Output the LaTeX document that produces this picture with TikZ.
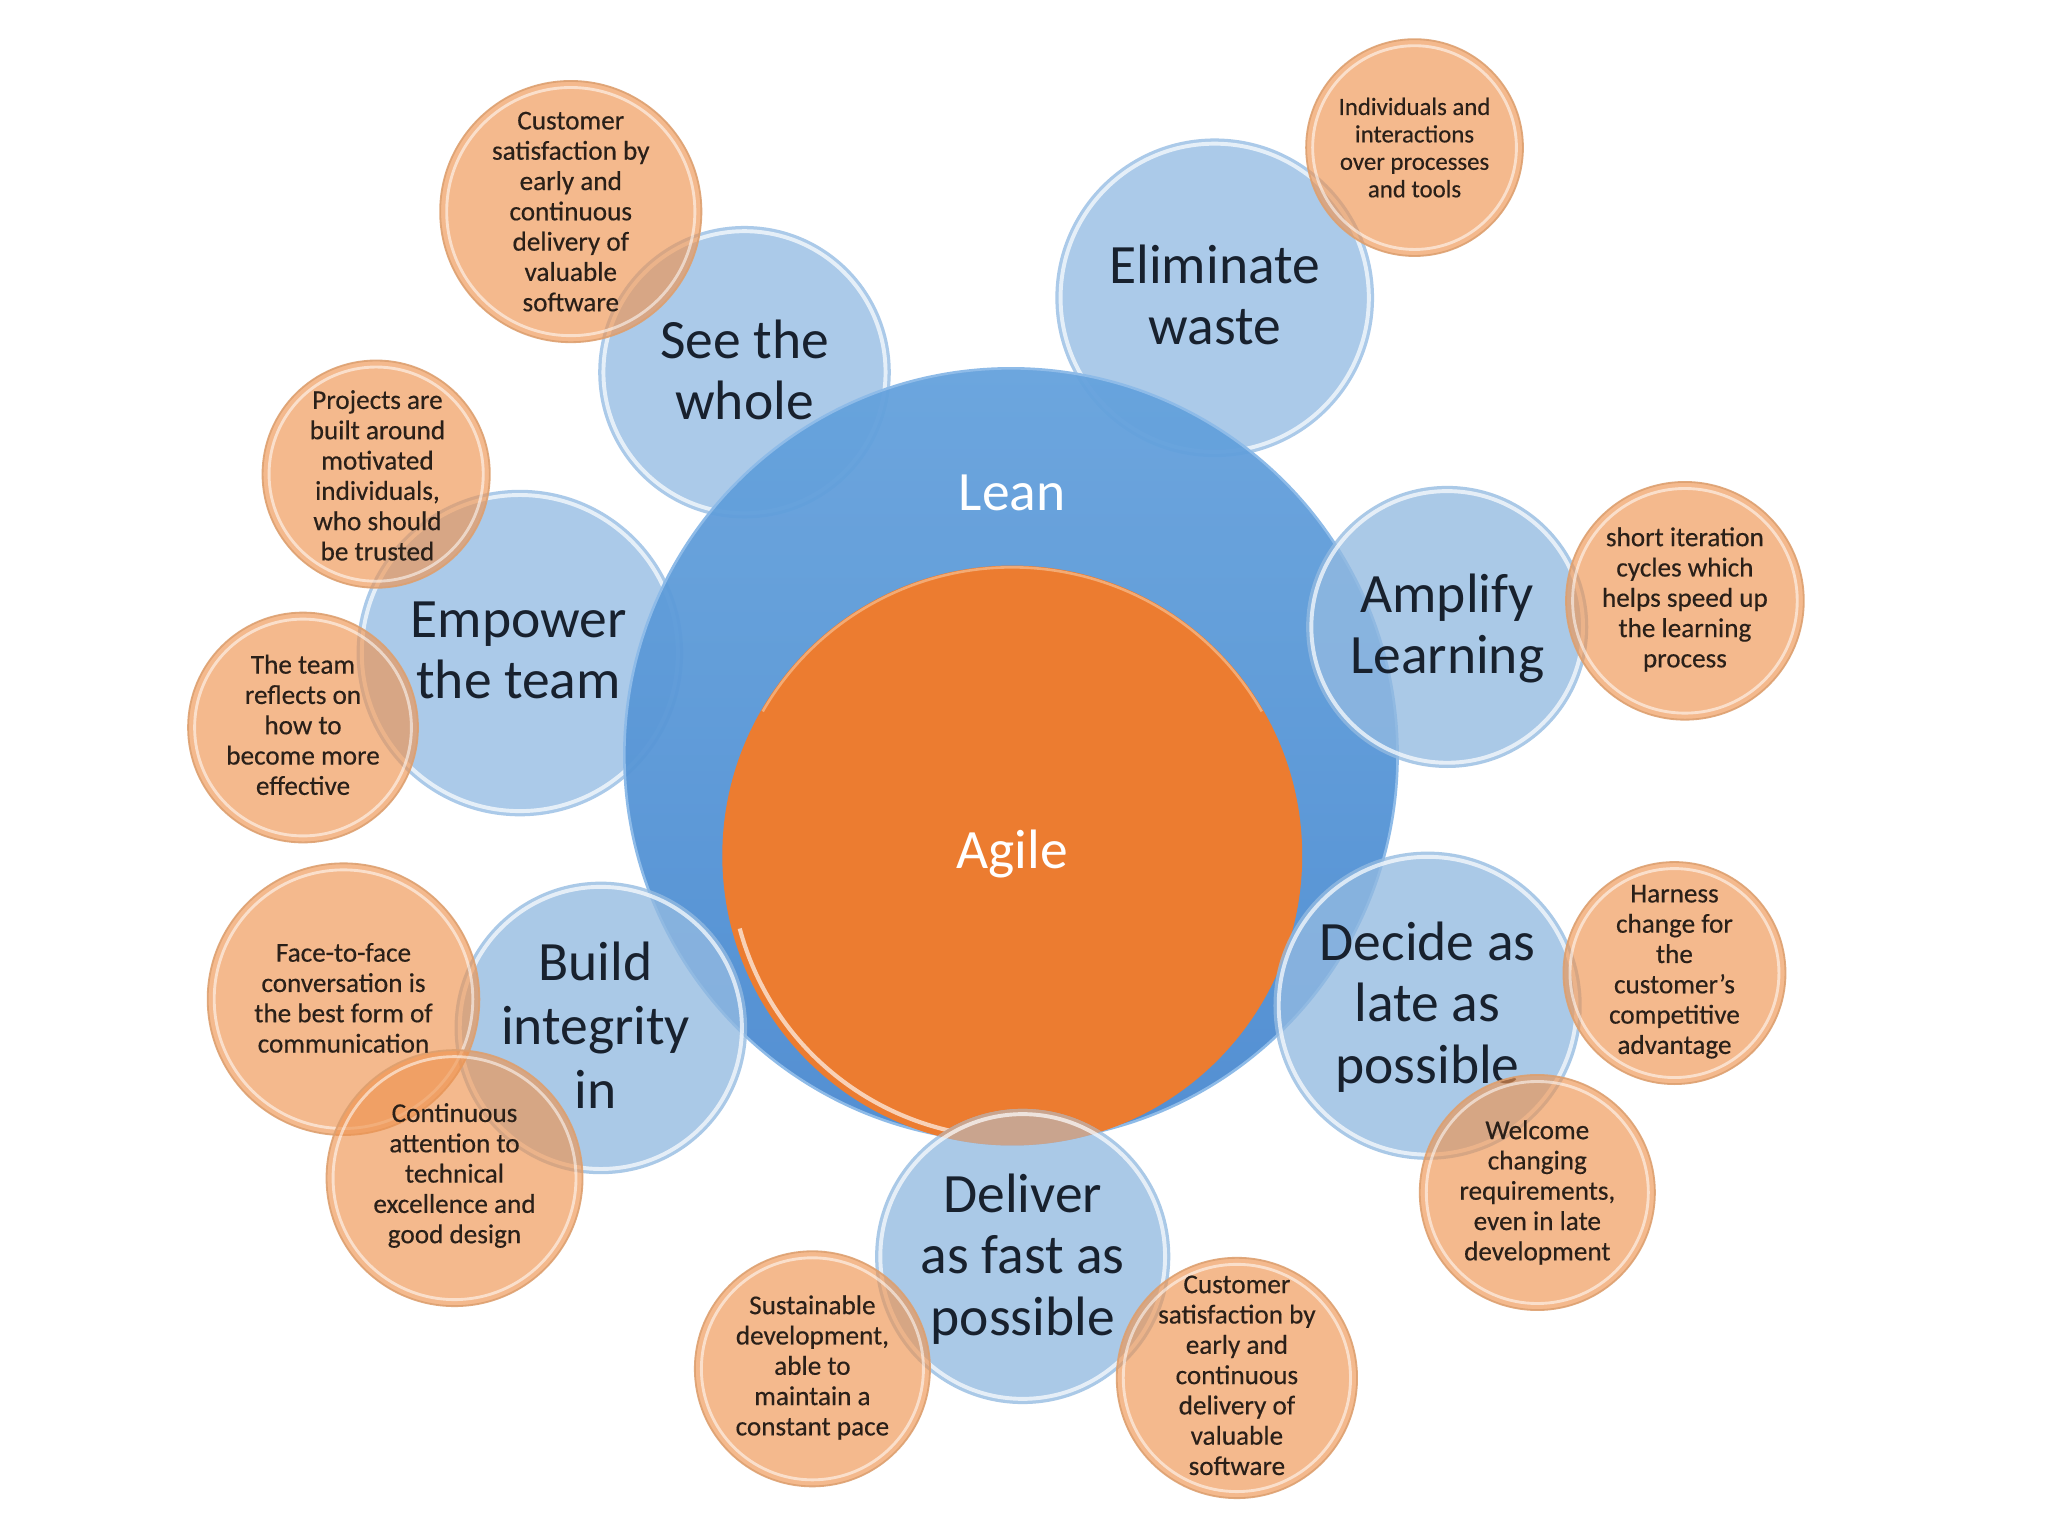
\documentclass[tikz,border=0pt]{standalone}
\usepackage{fontspec}
\setmainfont{Carlito}
\newfontfamily\smallfont[FakeBold=0.4]{Carlito}
\definecolor{lightbub}{HTML}{ABCAE9}
\definecolor{bubbase}{HTML}{93BAE1}
\definecolor{leanT}{HTML}{65A2DD}
\definecolor{leanB}{HTML}{4A8AD0}
\definecolor{leanEdge}{HTML}{8EBBE8}
\definecolor{agileor}{HTML}{EC7C30}
\definecolor{agilerim}{HTML}{F8C9A0}
\definecolor{tanov}{HTML}{C9A48E}
\definecolor{orgbase}{HTML}{EF9450}
\definecolor{orgedge}{HTML}{DDA070}
\definecolor{labeldark}{HTML}{18212E}
\definecolor{smalldark}{HTML}{2A2019}
\begin{document}
\begin{tikzpicture}[x=0.5pt,y=-0.5pt,
  bubA/.style={circle, inner sep=0pt, fill=lightbub},
  bubB/.style={circle, inner sep=0pt, fill=bubbase, fill opacity=0.78},
  bring/.style={draw=white, line width=1.5pt, draw opacity=0.7},
  orgbub/.style={circle, inner sep=0pt, fill=orgbase, fill opacity=0.65, draw=orgedge, line width=0.7pt, draw opacity=0.9},
  oring/.style={draw=white, line width=1.1pt, draw opacity=0.55},
  bigtxt/.style={align=center, font=\fontsize{21.25}{23.5}\selectfont, text=labeldark, inner sep=0pt},
  smalltxt/.style={align=center, font=\smallfont\fontsize{10.4}{11.6}\selectfont, text=smalldark, inner sep=0pt},
]
\useasboundingbox (0,0) rectangle (1568,1176);
\fill[white] (0,0) rectangle (1568,1176);

% bubbles beneath Lean
\node[bubA, minimum size=112pt] (see) at (570,285) {};
\draw[bring] (see.center) circle[radius=54pt];
\node[bubA, minimum size=122pt] (elim) at (930,228) {};
\draw[bring] (elim.center) circle[radius=59pt];
\node[bubA, minimum size=125pt] (emp) at (398,500) {};
\draw[bring] (emp.center) circle[radius=60.5pt];

% Lean
\node[circle, inner sep=0pt, minimum size=296pt, top color=leanT, bottom color=leanB,
      fill opacity=0.95, draw=leanEdge, line width=1pt] (lean) at (774,578) {};

% Agile
\node[circle, inner sep=0pt, minimum size=222pt, fill=agileor] (agile) at (775,655) {};
\draw[agilerim, line width=1pt, opacity=0.6] (agile.center) ++(30:110.3pt) arc[start angle=30, end angle=150, radius=110.3pt];
\draw[white, line width=1.6pt, opacity=0.65] (agile.center) ++(195:108pt) arc[start angle=195, end angle=285, radius=108pt];

% bubbles above Lean
\node[bubB, minimum size=108pt] (ampl) at (1108,480) {};
\draw[bring] (ampl.center) circle[radius=52pt];
\node[bubB, minimum size=118pt] (dec) at (1093,770) {};
\draw[bring] (dec.center) circle[radius=57pt];
\node[bubB, minimum size=113pt] (del) at (783,962) {};
\begin{scope}
  \clip (agile.center) circle[radius=111pt];
  \fill[tanov] (del.center) circle[radius=56.5pt];
\end{scope}
\draw[bring] (del.center) circle[radius=54.5pt];
\node[bubB, minimum size=112pt] (bld) at (460,787) {};
\draw[bring] (bld.center) circle[radius=54pt];

% big labels
\node[bigtxt] (tsee) at (570,283) {See the\\whole};
\node[bigtxt] (telim) at (930,226) {Eliminate\\waste};
\node[bigtxt] (temp) at (397,498) {Empower\\the team};
\node[bigtxt] (tampl) at (1108,481) {Amplify\\Learning};
\node[bigtxt] (tdec) at (1093,771) {Decide as\\late as\\possible};
\node[bigtxt] (tdel) at (783,964) {Deliver\\as fast as\\possible};
\node[bigtxt, font=\fontsize{21.25}{24.5}\selectfont] (tbld) at (456,785) {Build\\integrity\\in};
\node[bigtxt, text=white] (tlean) at (775,377) {Lean};
\node[bigtxt, text=white] (tagile) at (775,654) {Agile};

% orange bubbles
\node[orgbub, minimum size=100pt] (o1) at (437,162) {};
\draw[oring] (o1.center) circle[radius=47.5pt];
\node[orgbub, minimum size=83pt] (o2) at (1083,113) {};
\draw[oring] (o2.center) circle[radius=39pt];
\node[orgbub, minimum size=87pt] (o3) at (288,363) {};
\draw[oring] (o3.center) circle[radius=41pt];
\node[orgbub, minimum size=88pt] (o4) at (232,557) {};
\draw[oring] (o4.center) circle[radius=41.5pt];
\node[orgbub, minimum size=91pt] (o5) at (1290,460) {};
\draw[oring] (o5.center) circle[radius=43pt];
\node[orgbub, minimum size=85pt] (o6) at (1282,745) {};
\draw[oring] (o6.center) circle[radius=40pt];
\node[orgbub, minimum size=90pt] (o7) at (1177,913) {};
\draw[oring] (o7.center) circle[radius=42.5pt];
\node[orgbub, minimum size=92pt] (o8) at (947,1055) {};
\draw[oring] (o8.center) circle[radius=43.5pt];
\node[orgbub, minimum size=90pt] (o9) at (622,1048) {};
\draw[oring] (o9.center) circle[radius=42.5pt];
\node[orgbub, minimum size=104pt] (o10) at (263,765) {};
\draw[oring] (o10.center) circle[radius=49.5pt];
\node[orgbub, minimum size=98pt] (o11) at (348,902) {};
\draw[oring] (o11.center) circle[radius=46.5pt];

% small labels
\node[smalltxt] (to1) at (437,162) {Customer\\satisfaction by\\early and\\continuous\\delivery of\\valuable\\software};
\node[smalltxt, font=\smallfont\fontsize{9.5}{10.5}\selectfont] (to2) at (1083,113) {Individuals and\\interactions\\over processes\\and tools};
\node[smalltxt] (to3) at (289,364) {Projects are\\built around\\motivated\\individuals,\\who should\\be trusted};
\node[smalltxt] (to4) at (232,555) {The team\\reflects on\\how to\\become more\\effective};
\node[smalltxt] (to5) at (1290,459) {short iteration\\cycles which\\helps speed up\\the learning\\process};
\node[smalltxt] (to6) at (1282,744) {Harness\\change for\\the\\customer’s\\competitive\\advantage};
\node[smalltxt] (to7) at (1177,913) {Welcome\\changing\\requirements,\\even in late\\development};
\node[smalltxt] (to8) at (947,1053) {Customer\\satisfaction by\\early and\\continuous\\delivery of\\valuable\\software};
\node[smalltxt] (to9) at (622,1047) {Sustainable\\development,\\able to\\maintain a\\constant pace};
\node[smalltxt] (to10) at (263,764) {Face-to-face\\conversation is\\the best form of\\communication};
\node[smalltxt] (to11) at (348,900) {Continuous\\attention to\\technical\\excellence and\\good design};
\end{tikzpicture}
\end{document}
